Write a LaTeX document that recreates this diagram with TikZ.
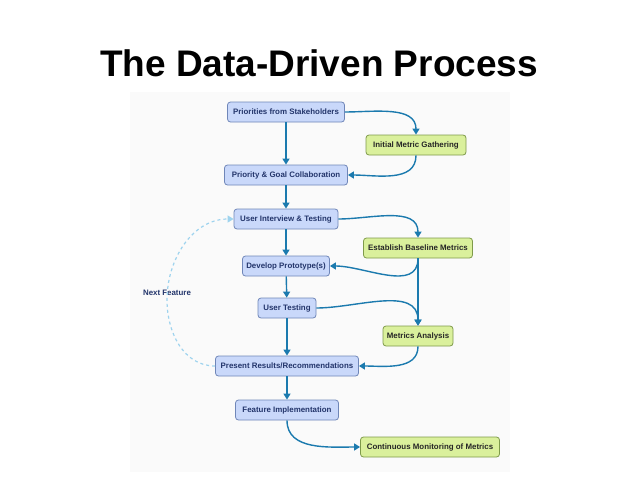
\documentclass[tikz,border=0pt]{standalone}
\usepackage{fontspec}
\setmainfont{Liberation Sans}
\usetikzlibrary{arrows.meta}
\definecolor{bfill}{HTML}{C9D8FA}
\definecolor{bdraw}{HTML}{6F86B8}
\definecolor{btext}{HTML}{23356B}
\definecolor{gfill}{HTML}{DAF09C}
\definecolor{gdraw}{HTML}{7E9A4A}
\definecolor{arr}{HTML}{1B7AAE}
\definecolor{dash}{HTML}{9ED3EE}
\tikzset{
 x=1pt,y=-1pt,
 base/.style={rounded corners=3pt,line width=0.8pt,font=\fontsize{7.9}{8}\selectfont\bfseries,inner sep=0pt,minimum height=20pt},
 bbox/.style={base,draw=bdraw,fill=bfill,text=btext},
 gbox/.style={base,draw=gdraw,fill=gfill,text=black!85},
 conn/.style={draw=arr,line width=1.4pt,-{Triangle[length=6pt,width=7pt]}},
 dconn/.style={draw=dash,line width=1.2pt,dashed,-{Triangle[length=6pt,width=7pt]}}
}
\begin{document}
\begin{tikzpicture}
\useasboundingbox (0,0) rectangle (638,479);
\fill[white] (0,0) rectangle (638,479);
\fill[black!2] (130,92) rectangle (510,472);
\node[font=\fontsize{37}{40}\selectfont\bfseries] (title) at (319,63) {The Data-Driven Process};
\node[bbox,minimum width=117pt] (ps) at (286,112) {Priorities from Stakeholders};
\node[gbox,minimum width=100pt] (im) at (416,145) {Initial Metric Gathering};
\node[bbox,minimum width=123pt] (pg) at (286,175) {Priority \& Goal Collaboration};
\node[bbox,minimum width=104pt] (ui) at (286,219) {User Interview \& Testing};
\node[gbox,minimum width=109pt] (eb) at (418,248) {Establish Baseline Metrics};
\node[bbox,minimum width=87pt] (dp) at (286,266) {Develop Prototype(s)};
\node[bbox,minimum width=58pt] (ut) at (287,308) {User Testing};
\node[gbox,minimum width=70pt] (ma) at (418,336) {Metrics Analysis};
\node[bbox,minimum width=143pt] (pr) at (287,366) {Present Results/Recommendations};
\node[bbox,minimum width=103pt] (fi) at (287,410) {Feature Implementation};
\node[gbox,minimum width=139pt] (cm) at (430,447) {Continuous Monitoring of Metrics};
\node[font=\fontsize{7.9}{8}\selectfont\bfseries,text=btext] (nf) at (167,293) {Next Feature};
\draw[conn] (ps) -- (pg);
\draw[conn] (pg) -- (ui);
\draw[conn] (ui) -- (dp);
\draw[conn] (dp) -- (ut);
\draw[conn] (ut) -- (pr);
\draw[conn] (pr) -- (fi);
\draw[conn] (ps.east) to[out=0,in=90] (im.north);
\draw[conn] (im.south) to[out=-90,in=0] (pg.east);
\draw[conn] (ui.east) to[out=0,in=90] (eb.north);
\draw[conn] (eb.south) to[out=-90,in=0] (dp.east);
\draw[conn] (eb.south) -- (ma.north);
\draw[conn] (ut.east) to[out=0,in=90] (ma.north);
\draw[conn] (ma.south) to[out=-90,in=0] (pr.east);
\draw[conn] (fi.south) to[out=-90,in=180] (cm.west);
\draw[dconn] (pr.west) to[out=180,in=-90] (167,300) to[out=90,in=180] (ui.west);
\end{tikzpicture}
\end{document}
